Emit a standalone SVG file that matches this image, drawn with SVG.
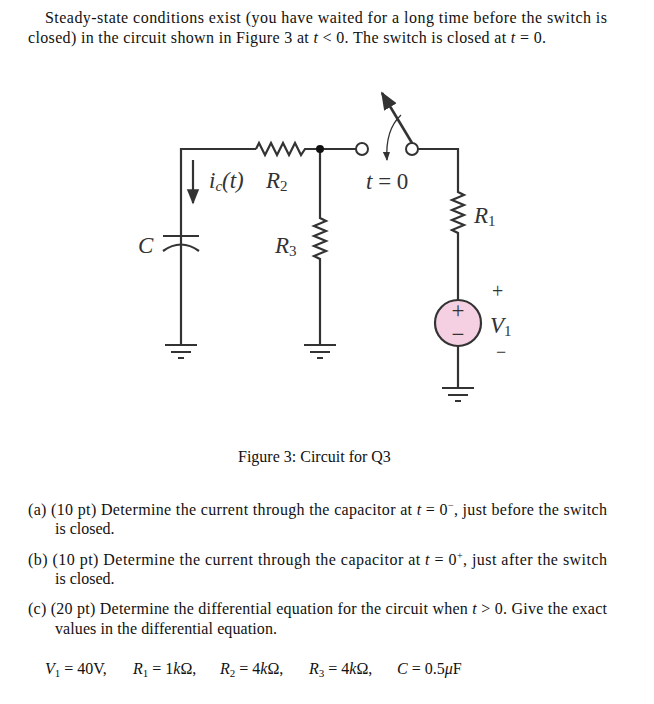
<svg xmlns="http://www.w3.org/2000/svg" width="654" height="704" viewBox="0 0 654 704">
<style>
.t{font-family:"Liberation Serif",serif;font-size:16px;fill:#111}
.l{font-family:"Liberation Serif",serif;font-size:23px;fill:#333}
.w{stroke:#333;stroke-width:2.2;fill:none}
</style>
<defs><marker id="a" viewBox="0 0 10 10" refX="9" refY="5" markerWidth="7" markerHeight="7" orient="auto"><path d="M0,1 L10,5 L0,9 z" fill="#333"/></marker></defs>
<rect width="654" height="704" fill="#fff"/>
<text class="t" x="45" y="23" textLength="562" lengthAdjust="spacing">Steady-state conditions exist (you have waited for a long time before the switch is</text>
<text class="t" x="28" y="43" textLength="518" lengthAdjust="spacing">closed) in the circuit shown in Figure 3 at <tspan font-style="italic">t</tspan> &lt; 0. The switch is closed at <tspan font-style="italic">t</tspan> = 0.</text>
<g id="connectors" class="w">
<path d="M181,345 V149 H256 M256,149 l3,-6 l6,12 l6,-12 l6,12 l6,-12 l6,12 l6,-12 l6,12 l4,-6 H356"/>
<path d="M320,149 V218 l6,3 l-12,5 l12,5 l-12,5 l12,5 l-12,5 l12,5 l-12,5 l6,3 V345"/>
<path d="M418,149 H458 V192 l6,3 l-12,5 l12,5 l-12,5 l12,5 l-12,5 l12,5 l-12,5 l6,3 V300 M458,346 V388"/>
<path d="M163,236 H199 M163,251 Q181,238 199,251" />
<path d="M165,345 H197 M171,352 H191 M178,358 H184 M304,345 H336 M310,352 H330 M317,358 H323 M442,388 H474 M448,395 H468 M455,401 H461"/>
<path d="M193,160 V203" marker-end="url(#a)"/>
<path d="M412,143 L382,93" stroke-width="2.6" marker-end="url(#a)"/>
<path d="M401,115 Q385,130 387,160" stroke-width="1.3" marker-end="url(#a)"/>
</g>
<g id="node" ><circle cx="320" cy="149" r="4" fill="#111"/></g>
<g id="switch"><circle cx="362" cy="149" r="6" fill="#fff" stroke="#333" stroke-width="2"/><circle cx="412" cy="149" r="6" fill="#fff" stroke="#333" stroke-width="2"/></g>
<g id="V1"><circle cx="458" cy="323" r="23" fill="#f5d0e3" stroke="#333" stroke-width="2.2"/><text class="l" x="458" y="318" text-anchor="middle" font-size="18">+</text><text class="l" x="458" y="342" text-anchor="middle" font-size="18">−</text></g>
<g id="labels" class="l" font-style="italic">
<text x="209" y="188">i<tspan font-size="15" dy="3">c</tspan><tspan dy="-3">(t)</tspan></text>
<text x="266" y="188">R<tspan font-size="15" dy="3" font-style="normal">2</tspan></text>
<text x="366" y="189">t<tspan font-style="normal"> = 0</tspan></text>
<text x="474" y="223">R<tspan font-size="15" dy="3" font-style="normal">1</tspan></text>
<text x="275" y="253">R<tspan font-size="15" dy="3" font-style="normal">3</tspan></text>
<text x="138" y="253">C</text>
<text x="492" y="298" font-style="normal" font-size="20">+</text>
<text x="490" y="333">V<tspan font-size="15" dy="3" font-style="normal">1</tspan></text>
<text x="496" y="358" font-style="normal" font-size="18">−</text>
</g>
<text class="t" x="238" y="462">Figure 3: Circuit for Q3</text>
<text class="t" x="28" y="515" textLength="579" lengthAdjust="spacing">(a) (10 pt) Determine the current through the capacitor at <tspan font-style="italic">t</tspan> = 0<tspan font-size="10" dy="-6">−</tspan><tspan dy="6">, just before the switch</tspan></text>
<text class="t" x="55" y="534">is closed.</text>
<text class="t" x="28" y="565" textLength="579" lengthAdjust="spacing">(b) (10 pt) Determine the current through the capacitor at <tspan font-style="italic">t</tspan> = 0<tspan font-size="10" dy="-6">+</tspan><tspan dy="6">, just after the switch</tspan></text>
<text class="t" x="55" y="584">is closed.</text>
<text class="t" x="28" y="614" textLength="579" lengthAdjust="spacing">(c) (20 pt) Determine the differential equation for the circuit when <tspan font-style="italic">t</tspan> &gt; 0. Give the exact</text>
<text class="t" x="55" y="634" textLength="222" lengthAdjust="spacing">values in the differential equation.</text>
<text class="t" x="45" y="674"><tspan font-style="italic">V</tspan><tspan font-size="11" dy="3">1</tspan><tspan dy="-3"> = 40V,</tspan><tspan x="133" font-style="italic">R</tspan><tspan font-size="11" dy="3">1</tspan><tspan dy="-3"> = 1<tspan font-style="italic">k</tspan>Ω,</tspan><tspan x="220" font-style="italic">R</tspan><tspan font-size="11" dy="3">2</tspan><tspan dy="-3"> = 4<tspan font-style="italic">k</tspan>Ω,</tspan><tspan x="309" font-style="italic">R</tspan><tspan font-size="11" dy="3">3</tspan><tspan dy="-3"> = 4<tspan font-style="italic">k</tspan>Ω,</tspan><tspan x="397" font-style="italic">C</tspan> = 0.5<tspan font-style="italic">μ</tspan>F</text>
</svg>
